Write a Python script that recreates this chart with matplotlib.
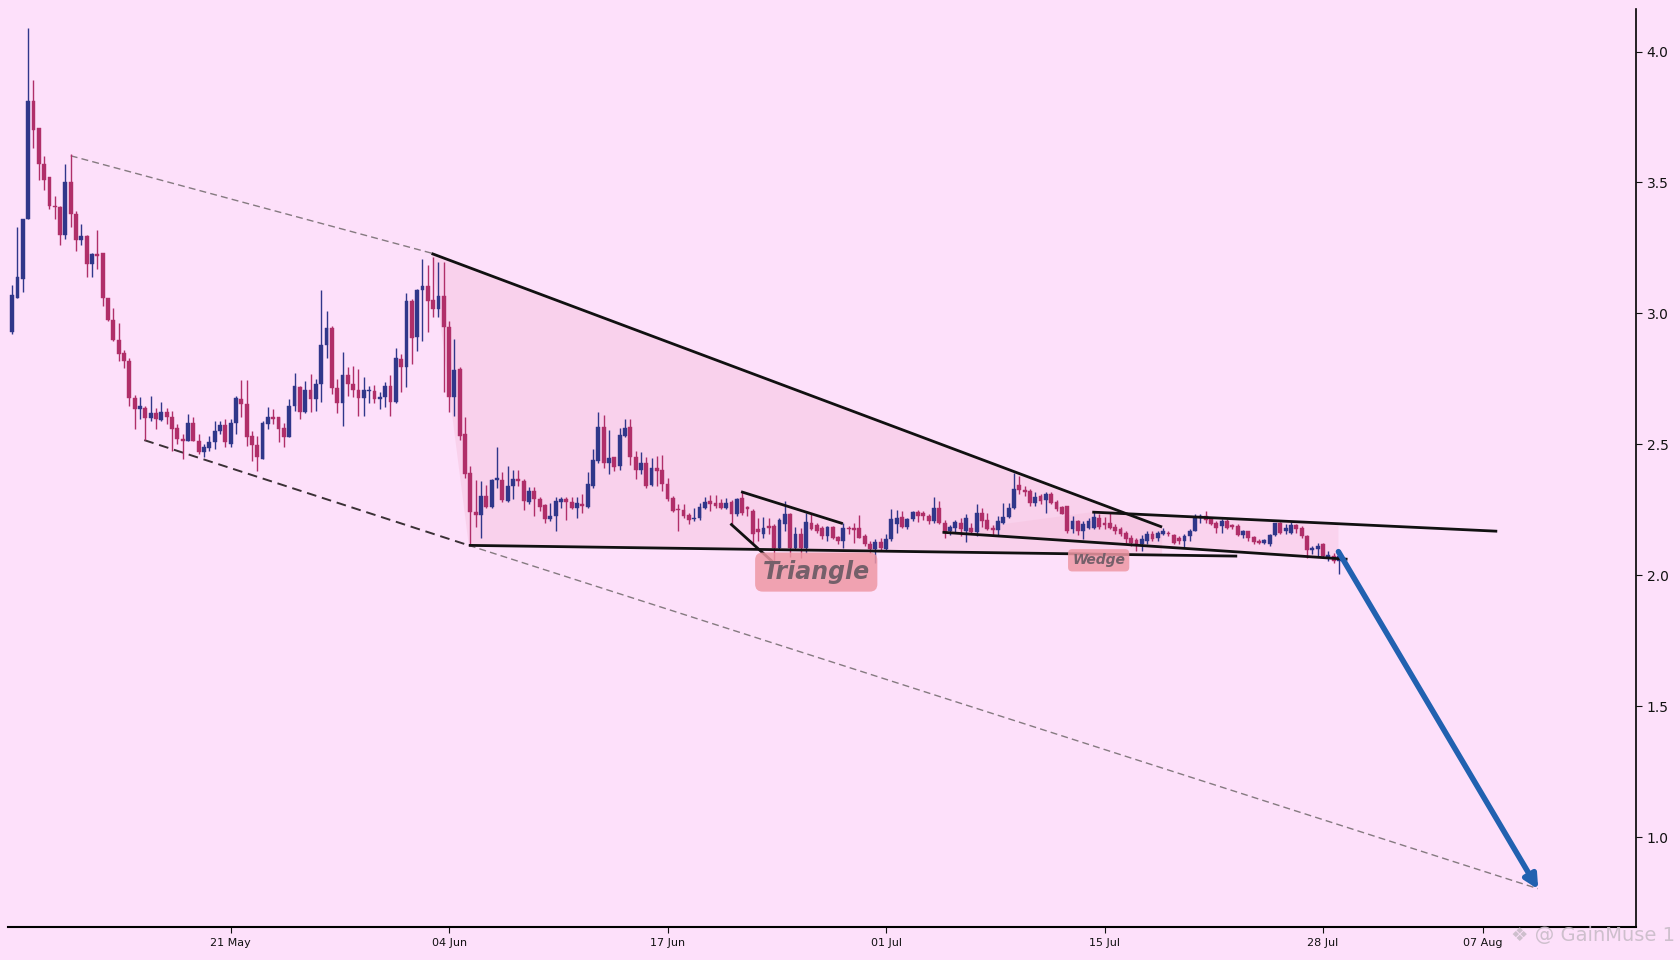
import numpy as np
import matplotlib.pyplot as plt
from matplotlib.patches import Polygon

# candles (8h)
opens = [2.93, 3.06, 3.13, 3.36, 3.81, 3.71, 3.57, 3.52, 3.41, 3.405,
         3.30, 3.50, 3.38, 3.28, 3.295, 3.19, 3.225, 3.23, 3.06, 2.975,
         2.90, 2.85, 2.82, 2.675, 2.635, 2.64, 2.60, 2.62, 2.592, 2.624,
         2.606, 2.562, 2.52, 2.511, 2.58, 2.513, 2.469, 2.485, 2.507, 2.549,
         2.573, 2.503, 2.58, 2.673, 2.654, 2.533, 2.498, 2.443, 2.577, 2.603,
         2.605, 2.564, 2.529, 2.647, 2.72, 2.622, 2.707, 2.673, 2.73, 2.881,
         2.944, 2.715, 2.656, 2.765, 2.73, 2.707, 2.677, 2.702, 2.705, 2.673,
         2.679, 2.724, 2.66, 2.826, 2.794, 3.049, 2.909, 3.09, 3.103, 3.052,
         3.017, 3.068, 2.949, 2.679, 2.788, 2.539, 2.39, 2.243, 2.23, 2.303,
         2.262, 2.364, 2.364, 2.284, 2.339, 2.369, 2.36, 2.281, 2.32, 2.29,
         2.268, 2.214, 2.226, 2.281, 2.293, 2.28, 2.258, 2.271, 2.262, 2.341,
         2.437, 2.567, 2.427, 2.45, 2.418, 2.533, 2.567, 2.452, 2.401, 2.43,
         2.345, 2.409, 2.401, 2.35, 2.294, 2.25, 2.25, 2.23, 2.214, 2.218,
         2.258, 2.284, 2.277, 2.274, 2.258, 2.281, 2.233, 2.294, 2.262, 2.246,
         2.175, 2.156, 2.188, 2.188, 2.105, 2.195, 2.235, 2.105, 2.159, 2.105,
         2.201, 2.192, 2.179, 2.15, 2.184, 2.146, 2.131, 2.179, 2.179, 2.179,
         2.15, 2.118, 2.099, 2.128, 2.099, 2.137, 2.195, 2.223, 2.184, 2.214,
         2.243, 2.239, 2.226, 2.207, 2.258, 2.201, 2.169, 2.179, 2.201, 2.167,
         2.179, 2.166, 2.239, 2.21, 2.179, 2.172, 2.201, 2.223, 2.256, 2.345,
         2.325, 2.322, 2.274, 2.303, 2.286, 2.309, 2.278, 2.261, 2.265, 2.175,
         2.207, 2.169, 2.182, 2.182, 2.22, 2.201, 2.201, 2.184, 2.175, 2.163,
         2.144, 2.133, 2.118, 2.131, 2.159, 2.144, 2.159, 2.163, 2.154, 2.141,
         2.131, 2.15, 2.169, 2.22, 2.226, 2.214, 2.201, 2.188, 2.207, 2.192,
         2.188, 2.154, 2.167, 2.146, 2.131, 2.124, 2.118, 2.154, 2.199, 2.169,
         2.163, 2.192, 2.182, 2.15, 2.095, 2.099, 2.118, 2.067, 2.074, 2.054]
highs = [3.11, 3.33, 3.36, 4.09, 3.89, 3.71, 3.60, 3.52, 3.45, 3.41,
         3.57, 3.61, 3.39, 3.34, 3.30, 3.23, 3.32, 3.23, 3.06, 3.02,
         2.965, 2.86, 2.83, 2.69, 2.68, 2.647, 2.685, 2.64, 2.66, 2.64,
         2.628, 2.577, 2.54, 2.615, 2.603, 2.539, 2.50, 2.533, 2.59, 2.59,
         2.596, 2.596, 2.686, 2.745, 2.745, 2.552, 2.533, 2.59, 2.641, 2.635,
         2.605, 2.58, 2.673, 2.772, 2.724, 2.743, 2.768, 2.749, 3.091, 3.011,
         2.953, 2.749, 2.854, 2.794, 2.80, 2.788, 2.756, 2.724, 2.726, 2.698,
         2.737, 2.765, 2.868, 2.845, 3.077, 3.055, 3.094, 3.208, 3.183, 3.215,
         3.196, 3.196, 2.972, 2.902, 2.794, 2.603, 2.418, 2.363, 2.358, 2.345,
         2.367, 2.49, 2.396, 2.418, 2.401, 2.401, 2.367, 2.337, 2.337, 2.297,
         2.271, 2.277, 2.297, 2.299, 2.297, 2.297, 2.297, 2.309, 2.396, 2.481,
         2.622, 2.613, 2.554, 2.452, 2.564, 2.596, 2.596, 2.473, 2.469, 2.452,
         2.447, 2.456, 2.46, 2.371, 2.303, 2.271, 2.271, 2.239, 2.258, 2.274,
         2.299, 2.307, 2.307, 2.29, 2.294, 2.286, 2.294, 2.322, 2.265, 2.252,
         2.22, 2.223, 2.22, 2.195, 2.22, 2.284, 2.239, 2.184, 2.179, 2.239,
         2.239, 2.201, 2.188, 2.188, 2.188, 2.15, 2.201, 2.188, 2.201, 2.23,
         2.156, 2.131, 2.137, 2.144, 2.156, 2.252, 2.248, 2.246, 2.22, 2.246,
         2.248, 2.246, 2.233, 2.297, 2.284, 2.21, 2.192, 2.21, 2.218, 2.233,
         2.201, 2.271, 2.256, 2.239, 2.192, 2.226, 2.274, 2.277, 2.392, 2.38,
         2.341, 2.328, 2.316, 2.309, 2.316, 2.316, 2.287, 2.265, 2.265, 2.226,
         2.21, 2.207, 2.22, 2.246, 2.233, 2.223, 2.239, 2.195, 2.184, 2.169,
         2.154, 2.144, 2.154, 2.169, 2.169, 2.169, 2.182, 2.169, 2.156, 2.15,
         2.156, 2.175, 2.233, 2.235, 2.246, 2.22, 2.207, 2.214, 2.214, 2.197,
         2.195, 2.172, 2.169, 2.15, 2.137, 2.137, 2.159, 2.201, 2.205, 2.197,
         2.205, 2.197, 2.188, 2.154, 2.112, 2.124, 2.124, 2.093, 2.086, 2.095]
lows = [2.92, 3.06, 3.08, 3.36, 3.63, 3.51, 3.47, 3.40, 3.36, 3.26,
        3.285, 3.33, 3.24, 3.26, 3.14, 3.14, 3.17, 3.03, 2.97, 2.895,
        2.82, 2.79, 2.645, 2.56, 2.595, 2.516, 2.59, 2.56, 2.59, 2.577,
        2.475, 2.50, 2.443, 2.511, 2.511, 2.462, 2.45, 2.475, 2.482, 2.539,
        2.488, 2.488, 2.539, 2.603, 2.494, 2.437, 2.399, 2.443, 2.558, 2.577,
        2.507, 2.488, 2.526, 2.628, 2.596, 2.618, 2.622, 2.628, 2.66, 2.83,
        2.692, 2.618, 2.571, 2.686, 2.679, 2.609, 2.609, 2.656, 2.656, 2.634,
        2.643, 2.609, 2.656, 2.698, 2.717, 2.807, 2.858, 2.896, 2.928, 2.985,
        2.985, 2.698, 2.622, 2.609, 2.516, 2.373, 2.116, 2.184, 2.144, 2.258,
        2.258, 2.335, 2.281, 2.281, 2.29, 2.341, 2.248, 2.271, 2.226, 2.246,
        2.201, 2.207, 2.169, 2.258, 2.21, 2.252, 2.22, 2.239, 2.258, 2.335,
        2.43, 2.409, 2.386, 2.399, 2.401, 2.526, 2.422, 2.367, 2.386, 2.332,
        2.341, 2.341, 2.322, 2.284, 2.243, 2.169, 2.218, 2.197, 2.207, 2.21,
        2.252, 2.246, 2.258, 2.252, 2.252, 2.195, 2.226, 2.23, 2.226, 2.118,
        2.131, 2.144, 2.159, 2.054, 2.099, 2.169, 2.07, 2.099, 2.067, 2.086,
        2.172, 2.163, 2.137, 2.131, 2.137, 2.118, 2.103, 2.156, 2.124, 2.141,
        2.112, 2.086, 2.048, 2.092, 2.095, 2.131, 2.163, 2.179, 2.175, 2.207,
        2.205, 2.21, 2.195, 2.201, 2.195, 2.144, 2.154, 2.163, 2.15, 2.128,
        2.156, 2.15, 2.184, 2.172, 2.15, 2.15, 2.197, 2.218, 2.252, 2.31,
        2.303, 2.265, 2.265, 2.271, 2.239, 2.271, 2.246, 2.233, 2.163, 2.163,
        2.154, 2.137, 2.175, 2.175, 2.175, 2.175, 2.175, 2.156, 2.15, 2.124,
        2.112, 2.093, 2.093, 2.121, 2.131, 2.131, 2.154, 2.15, 2.118, 2.121,
        2.105, 2.131, 2.167, 2.201, 2.201, 2.192, 2.163, 2.163, 2.175, 2.175,
        2.15, 2.144, 2.131, 2.121, 2.121, 2.118, 2.112, 2.15, 2.156, 2.159,
        2.156, 2.163, 2.141, 2.067, 2.08, 2.074, 2.067, 2.054, 2.048, 2.003]
closes = [3.07, 3.14, 3.36, 3.81, 3.70, 3.57, 3.51, 3.41, 3.405, 3.30,
          3.50, 3.38, 3.28, 3.295, 3.19, 3.225, 3.22, 3.06, 2.975, 2.90,
          2.845, 2.82, 2.675, 2.635, 2.647, 2.60, 2.62, 2.595, 2.622, 2.606,
          2.558, 2.52, 2.511, 2.58, 2.513, 2.469, 2.488, 2.507, 2.549, 2.573,
          2.507, 2.58, 2.675, 2.654, 2.529, 2.498, 2.45, 2.58, 2.603, 2.598,
          2.558, 2.526, 2.647, 2.724, 2.622, 2.707, 2.673, 2.73, 2.881, 2.944,
          2.715, 2.656, 2.765, 2.73, 2.707, 2.677, 2.707, 2.707, 2.673, 2.682,
          2.724, 2.66, 2.83, 2.794, 3.049, 2.905, 3.09, 3.103, 3.049, 3.017,
          3.068, 2.947, 2.679, 2.784, 2.533, 2.386, 2.243, 2.23, 2.303, 2.262,
          2.364, 2.369, 2.288, 2.339, 2.367, 2.358, 2.284, 2.322, 2.29, 2.262,
          2.214, 2.226, 2.284, 2.293, 2.281, 2.258, 2.277, 2.265, 2.348, 2.439,
          2.567, 2.427, 2.447, 2.414, 2.536, 2.564, 2.45, 2.401, 2.427, 2.341,
          2.409, 2.399, 2.348, 2.29, 2.246, 2.248, 2.226, 2.21, 2.22, 2.261,
          2.281, 2.271, 2.265, 2.258, 2.277, 2.233, 2.29, 2.239, 2.252, 2.156,
          2.166, 2.179, 2.179, 2.105, 2.21, 2.235, 2.105, 2.159, 2.103, 2.205,
          2.175, 2.169, 2.15, 2.184, 2.144, 2.131, 2.179, 2.175, 2.172, 2.144,
          2.118, 2.099, 2.128, 2.103, 2.137, 2.214, 2.22, 2.184, 2.214, 2.243,
          2.226, 2.226, 2.207, 2.258, 2.201, 2.163, 2.184, 2.203, 2.175, 2.218,
          2.166, 2.239, 2.207, 2.175, 2.172, 2.207, 2.223, 2.258, 2.329, 2.326,
          2.316, 2.274, 2.299, 2.284, 2.309, 2.274, 2.252, 2.235, 2.169, 2.207,
          2.169, 2.197, 2.207, 2.223, 2.184, 2.192, 2.182, 2.167, 2.156, 2.137,
          2.124, 2.118, 2.137, 2.156, 2.137, 2.163, 2.167, 2.156, 2.124, 2.131,
          2.15, 2.169, 2.223, 2.226, 2.21, 2.197, 2.182, 2.207, 2.182, 2.184,
          2.154, 2.167, 2.141, 2.128, 2.124, 2.133, 2.154, 2.199, 2.163, 2.182,
          2.192, 2.175, 2.15, 2.095, 2.103, 2.112, 2.074, 2.077, 2.054, 2.074]

# date ticks (candle index) and labels
tick_idx = [41, 82, 123, 164, 205, 246, 276]
tick_labels = ['21 May', '04 Jun', '17 Jun', '01 Jul', '15 Jul', '28 Jul', '07 Aug']

# drawn pattern lines as (candle index, price) pairs
upper_dash = [(11.0, 3.602), (78.9, 3.229)]
lower_dash_dark = [(24.8, 2.516), (85.7, 2.114)]
lower_dash_light = [(85.7, 2.114), (286.3, 0.803)]
tri_upper = [(78.7, 3.229), (215.8, 2.184)]
tri_lower = [(85.7, 2.114), (229.9, 2.073)]
small_upper = [(136.8, 2.319), (155.9, 2.197)]
small_lower = [(134.8, 2.197), (142.9, 2.048)]
wedge_lower = [(174.6, 2.164), (250.6, 2.061)]
channel_upper = [(202.7, 2.241), (278.7, 2.168)]
tri_fill = [(78.7, 3.229), (215.8, 2.184), (215.8, 2.077), (85.7, 2.114)]
wedge_fill = [(174.6, 2.164), (202.7, 2.241), (248.9, 2.198), (248.9, 2.063)]
arrow_start = (248.9, 2.09)
arrow_end = (286.4, 0.80)

BG = '#fde0fa'
UP = '#30378a'
DOWN = '#b02f69'

fig = plt.figure(figsize=(16.8, 9.6), dpi=100)
fig.patch.set_facecolor(BG)
ax = fig.add_axes([0.005, 0.034, 0.969, 0.957])
ax.set_facecolor(BG)

o = np.array(opens)
h = np.array(highs)
l = np.array(lows)
c = np.array(closes)
x = np.arange(len(o))
cols = np.where(c >= o, UP, DOWN)

# pattern fills first (under candles)
ax.add_patch(Polygon(tri_fill, closed=True, facecolor='#f5bcd8', alpha=0.4,
                     edgecolor='none', zorder=1))
ax.add_patch(Polygon(wedge_fill, closed=True, facecolor='#f5bcd8', alpha=0.35,
                     edgecolor='none', zorder=1))

# candles
ax.vlines(x, l, h, colors=cols, linewidth=1.0, zorder=3)
body_lo = np.minimum(o, c)
body_h = np.maximum(np.abs(c - o), 0.006)
ax.bar(x, body_h, bottom=body_lo, width=0.72, color=cols, edgecolor=cols,
       linewidth=0.3, zorder=4)

def seg(pts, **kw):
    xs, ys = zip(*pts)
    ax.plot(xs, ys, **kw)

seg(upper_dash, color='#857a80', lw=1.0, ls=(0, (5, 3)), zorder=2)
seg(lower_dash_dark, color='#3a3035', lw=1.4, ls=(0, (5, 3)), zorder=2)
seg(lower_dash_light, color='#857a80', lw=1.0, ls=(0, (5, 3)), zorder=2)
for pts in [tri_upper, tri_lower, small_upper, small_lower, wedge_lower, channel_upper]:
    seg(pts, color='#111111', lw=2.0, zorder=5, solid_capstyle='butt')

# labels
ax.text(150.9, 2.012, 'Triangle', fontsize=17, fontweight='bold', style='italic',
        color='#75606a', ha='center', va='center', zorder=6,
        bbox=dict(boxstyle='round,pad=0.32', facecolor='#ee97a4', edgecolor='none', alpha=0.85))
ax.text(203.9, 2.057, 'Wedge', fontsize=10, fontweight='bold', style='italic',
        color='#75606a', ha='center', va='center', zorder=6,
        bbox=dict(boxstyle='round,pad=0.3', facecolor='#ee97a4', edgecolor='none', alpha=0.85))

# projected move
ax.annotate('', xy=arrow_end, xytext=arrow_start, zorder=7,
            arrowprops=dict(arrowstyle='-|>', color='#2161b0', lw=4,
                            mutation_scale=20, shrinkA=0, shrinkB=0))

ax.set_xlim(-0.7, 304.8)
ax.set_ylim(0.655, 4.164)
ax.set_xticks(tick_idx)
ax.set_xticklabels(tick_labels, fontsize=8)
ax.yaxis.tick_right()
ax.set_yticks([1.0, 1.5, 2.0, 2.5, 3.0, 3.5, 4.0])
ax.set_yticklabels(['1.0', '1.5', '2.0', '2.5', '3.0', '3.5', '4.0'], fontsize=10)
ax.tick_params(axis='both', length=4, width=0.8, colors='#111111')
ax.spines['top'].set_visible(False)
ax.spines['left'].set_visible(False)
ax.spines['bottom'].set_linewidth(1.5)
ax.spines['right'].set_linewidth(1.2)

fig.text(0.997, 0.026, '\u2756 @ GainMuse 1', ha='right', va='center',
         fontsize=14, color='#c9bcc8', alpha=0.9)

fig.savefig('out.png', dpi=100, facecolor=BG)
